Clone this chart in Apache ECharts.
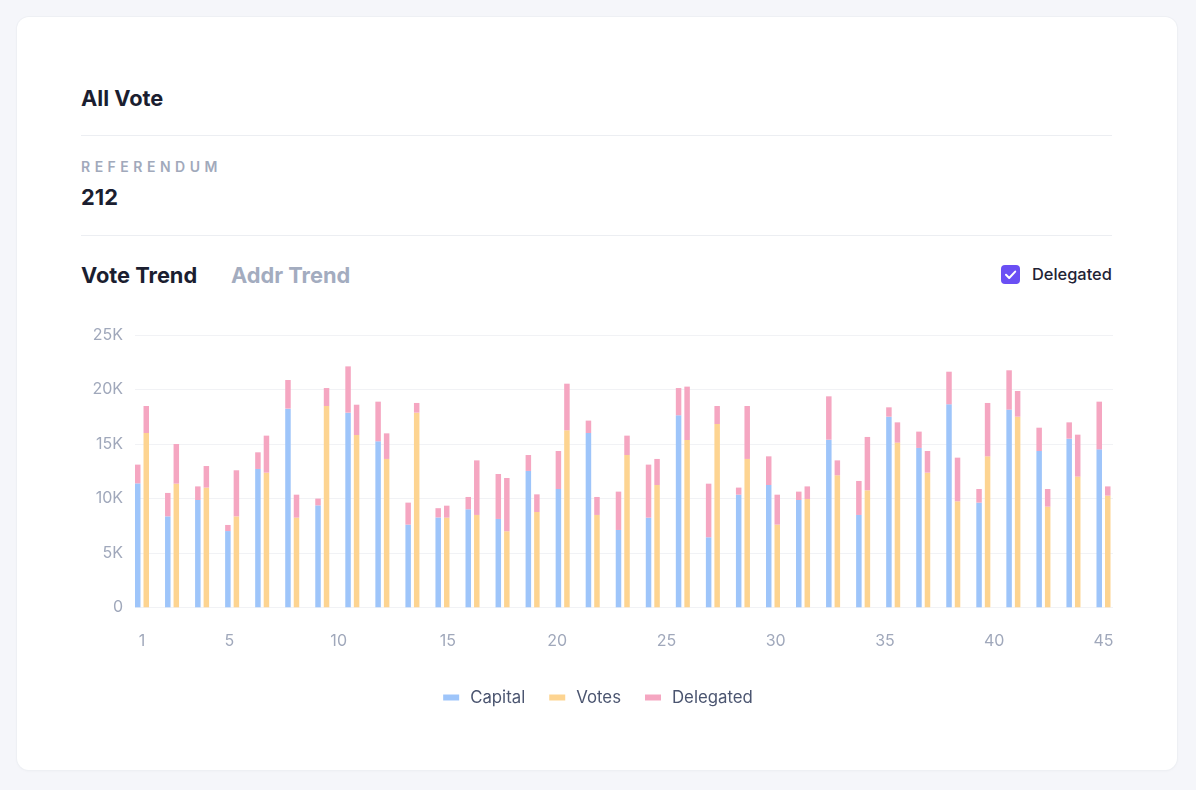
<!DOCTYPE html>
<html>
<head>
<meta charset="utf-8">
<script src="https://cdn.jsdelivr.net/npm/echarts@6/dist/echarts.min.js"></script>
<style>
  html, body { margin:0; padding:0; width:1196px; height:790px; background:#f5f6fa; overflow:hidden; font-family: Inter, "Noto Sans", sans-serif; }
  .card { position:absolute; left:17px; top:17px; width:1160px; height:753px; background:#fff; border-radius:12px; box-shadow:0 0 0 1px #eef0f4, 0 1px 3px rgba(20,30,60,0.04); }
  .t { position:absolute; white-space:nowrap; }
  .h { font-size:21.8px; font-weight:700; color:#1b1e30; line-height:26px; }
  .div { position:absolute; left:81px; width:1031px; height:1px; background:#eceef2; }
  #chart { position:absolute; left:0; top:0; width:1196px; height:790px; }
  .cb { position:absolute; left:1001px; top:265px; width:19px; height:19px; background:#6a4ff4; border-radius:4px; }
</style>
</head>
<body>
<div class="card"></div>
<div class="t h" style="left:81px; top:85px;">All Vote</div>
<div class="div" style="top:135px;"></div>
<div class="t" style="left:81px; top:158px; font-size:14px; font-weight:600; letter-spacing:4.5px; color:#a1a9bb; line-height:18px;">REFERENDUM</div>
<div class="t h" style="left:81px; top:184px;">212</div>
<div class="div" style="top:235px;"></div>
<div class="t h" style="left:81px; top:262px;">Vote Trend</div>
<div class="t h" style="left:231px; top:262px; color:#a3acbf;">Addr Trend</div>
<div class="cb"><svg width="19" height="19" viewBox="0 0 19 19"><path d="M5 9.8 L8.2 13 L14.2 6.6" fill="none" stroke="#fff" stroke-width="2" stroke-linecap="round" stroke-linejoin="round"/></svg></div>
<div class="t" style="left:1032px; top:264px; font-size:16.4px; font-weight:500; color:#1f2335; line-height:20px;">Delegated</div>
<div id="chart"></div>
<script>
const categories = ['1','2','3','4','5','6','7','8','9','10','11','12','13','14','15','16','17','18','19','20','21','22','23','24','25','26','27','28','29','30','31','32','33'];
const capital = [11380,8350,9850,7000,12700,18240,9360,17870,15240,7590,8250,9000,8110,12520,10860,16000,7100,8230,17630,6430,10340,11230,9850,15390,8480,17500,14630,18640,9610,18150,14350,15480,14500];
const capitalDelegated = [1720,2150,1250,560,1530,2630,620,4250,3640,2020,850,1130,4130,1460,3490,1140,3520,4870,2500,4920,650,2630,770,3980,3120,860,1500,2990,1250,3610,2140,1500,4380];
const votes = [16000,11350,10990,8350,12360,8230,18480,15820,13620,17870,8230,8480,6980,8750,16250,8480,13980,11230,15360,16830,13620,7590,9940,12120,10740,15120,12360,9730,13860,17500,9240,12000,10250];
const votesDelegated = [2480,3640,1980,4230,3400,2110,1650,2780,2350,890,1100,5010,4890,1620,4280,1650,1780,2390,4900,1650,4860,2750,1160,1370,4900,1860,1990,4010,4900,2360,1620,3850,850];
const xTicks = [1,5,10,15,20,25,30,35,40,45];
const legendNames = ['Capital','Votes','Delegated'];

const C_BLUE = '#9ec5fa', C_YELLOW = '#fdd491', C_PINK = '#f5a6c1';
const labelStyle = { fontFamily:'Inter', fontSize:16, color:'#a0a8bb' };
const barCommon = { type:'bar', xAxisIndex:1, yAxisIndex:1, barWidth:5.5, barGap:'55%', emphasis:{disabled:true} };

const chart = echarts.init(document.getElementById('chart'), null, {renderer:'canvas'});
chart.setOption({
  animation:false,
  legend: {
    data: legendNames, top:684, left:'center', icon:'rect', itemWidth:16, itemHeight:6, itemGap:24,
    textStyle:{ fontFamily:'Inter', fontSize:16.8, color:'#4b5570', padding:[0,0,0,6] }
  },
  grid: [
    { left:135, right:83, top:335, bottom:182.7 },
    { left:142, right:92.5, top:335, bottom:182.7 }
  ],
  xAxis: [
    { type:'value', gridIndex:0, show:false, min:0, max:1 },
    { type:'category', gridIndex:1, data:categories, boundaryGap:false, show:false },
    { type:'value', gridIndex:1, min:1, max:45, position:'bottom',
      axisLine:{show:false}, axisTick:{show:false}, splitLine:{show:false},
      axisLabel:Object.assign({ customValues:xTicks, margin:26 }, labelStyle) }
  ],
  yAxis: [
    { type:'value', gridIndex:0, min:0, max:25000, interval:5000,
      axisLine:{show:false}, axisTick:{show:false},
      splitLine:{ lineStyle:{ color:'#f1f2f5', width:1 } },
      axisLabel:Object.assign({ margin:12, formatter: v => v === 0 ? '0' : (v/1000) + 'K' }, labelStyle) },
    { type:'value', gridIndex:1, min:0, max:25000, show:false }
  ],
  series: [
    Object.assign({ name:'Capital', stack:'capital', data:capital, itemStyle:{ color:C_BLUE } }, barCommon),
    Object.assign({ name:'Votes', stack:'votes', data:votes, itemStyle:{ color:C_YELLOW } }, barCommon),
    Object.assign({ name:'Delegated', stack:'capital', data:capitalDelegated, itemStyle:{ color:C_PINK } }, barCommon),
    Object.assign({ name:'Delegated', stack:'votes', data:votesDelegated, itemStyle:{ color:C_PINK } }, barCommon)
  ]
});
</script>
</body>
</html>
